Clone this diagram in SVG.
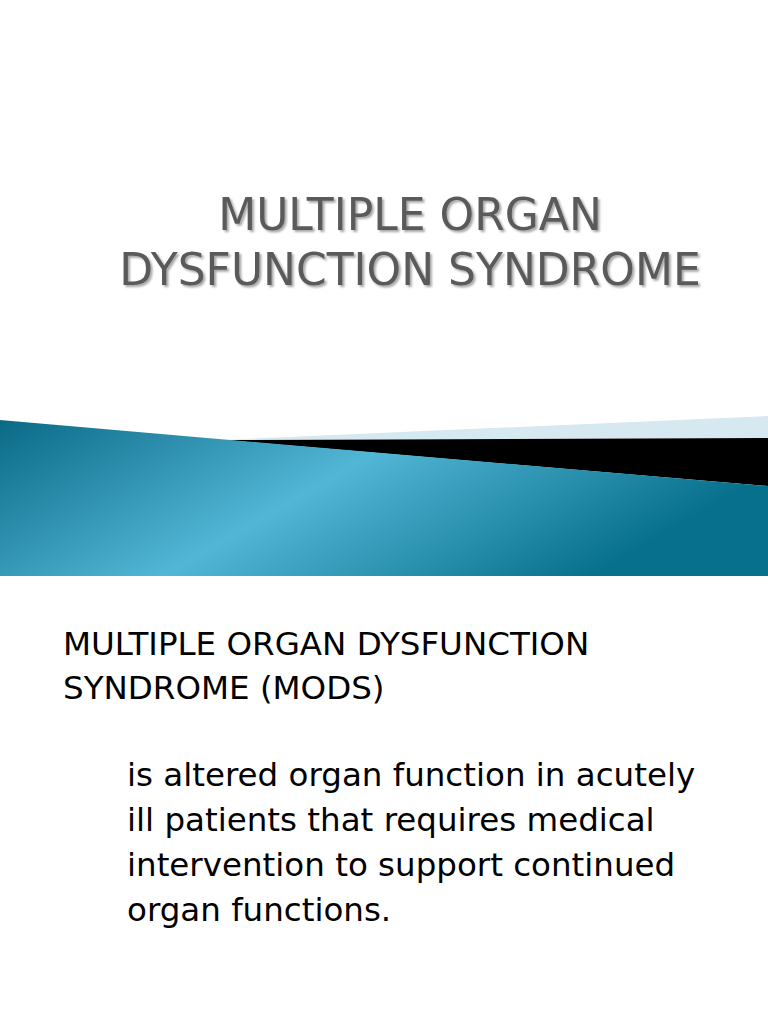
<svg xmlns="http://www.w3.org/2000/svg" width="768" height="1024" viewBox="0 0 768 1024">
<defs>
<linearGradient id="teal" x1="0" y1="0" x2="1" y2="0.35">
<stop offset="0" stop-color="#0a6a86"/>
<stop offset="0.5" stop-color="#52b6d6"/>
<stop offset="1" stop-color="#07708c"/>
</linearGradient>
<filter id="sh"><feDropShadow dx="2" dy="2" stdDeviation="1.2" flood-color="#000" flood-opacity="0.35"/></filter>
</defs>
<style>
.t{font-family:"DejaVu Sans",sans-serif;font-size:44px;fill:#5a5a5a;text-anchor:middle}
.b{font-family:"DejaVu Sans",sans-serif;font-size:32.5px;fill:#000}
</style>
<rect width="768" height="1024" fill="#fff"/>
<polygon points="220,440 768,416 768,438" fill="#d6e8f0"/>
<polygon points="225,440 768,438 768,486" fill="#000"/>
<polygon points="0,420 230,440 768,486 768,576 0,576" fill="url(#teal)"/>
<g filter="url(#sh)">
<text class="t" x="410" y="230">MULTIPLE ORGAN</text>
<text class="t" x="410" y="285">DYSFUNCTION SYNDROME</text>
</g>
<text class="b" x="63" y="655">MULTIPLE ORGAN DYSFUNCTION</text>
<text class="b" x="63" y="699">SYNDROME (MODS)</text>
<text class="b" x="127" y="786">is altered organ function in acutely</text>
<text class="b" x="127" y="831">ill patients that requires medical</text>
<text class="b" x="127" y="876">intervention to support continued</text>
<text class="b" x="127" y="921">organ functions.</text>
</svg>
